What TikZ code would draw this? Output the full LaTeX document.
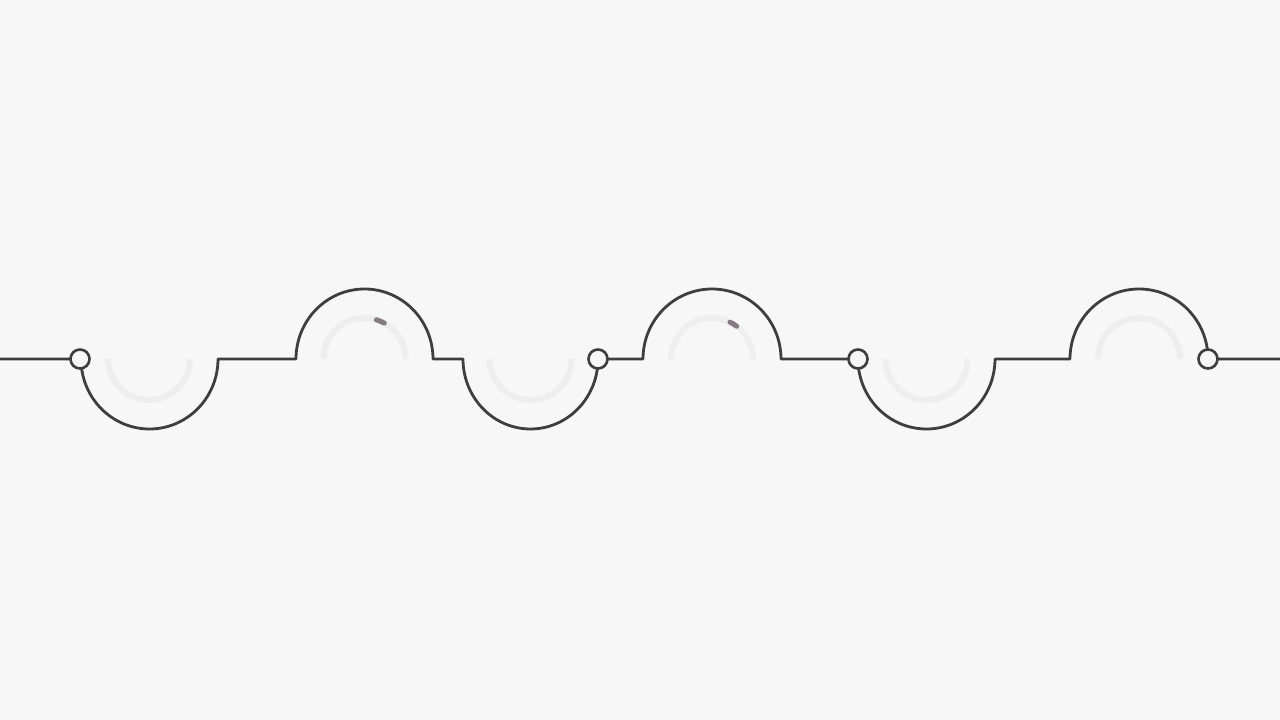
\documentclass[tikz,border=0pt]{standalone}
\begin{document}
\begin{tikzpicture}[x=1pt,y=1pt,
  wire/.style={draw=wirec,line width=2.8pt,line join=round},
  port/.style={circle,draw=wirec,fill=bgc,line width=2.6pt,minimum size=19pt,inner sep=0pt},
  track/.style={draw=trackc,line width=6pt},
  tick/.style={draw=tickc,line width=5pt,line cap=round}]
\definecolor{bgc}{HTML}{F7F7F7}
\definecolor{wirec}{HTML}{3E3E3E}
\definecolor{trackc}{HTML}{EEEEEE}
\definecolor{tickc}{HTML}{857A80}
\fill[bgc] (0,0) rectangle (1280,720);
\useasboundingbox (0,0) rectangle (1280,720);
% faint inner tracks
\draw[track] (108,361) arc[start angle=180,end angle=360,radius=41];
\draw[track] (323.5,361) arc[start angle=180,end angle=0,radius=41];
\draw[track] (489.5,361) arc[start angle=180,end angle=360,radius=41];
\draw[track] (671,361) arc[start angle=180,end angle=0,radius=41];
\draw[track] (885.5,361) arc[start angle=180,end angle=360,radius=41];
\draw[track] (1098,361) arc[start angle=180,end angle=0,radius=41];
% progress ticks
\draw[tick] (364.5,361) ++(73:41) arc[start angle=73,end angle=61,radius=41];
\draw[tick] (712,361) ++(64:41) arc[start angle=64,end angle=53,radius=41];
% coordinates
\coordinate (w0) at (0,361);
\coordinate (w9) at (1280,361);
\coordinate (a1) at (81,361);
\coordinate (a2) at (296,361);
\coordinate (a3) at (463,361);
\coordinate (a4) at (643,361);
\coordinate (a5) at (858,361);
\coordinate (a6) at (1070,361);
% main wire
\draw[wire] (w0) -- (a1)
  arc[start angle=180,end angle=360,x radius=68.5,y radius=70] -- (a2)
  arc[start angle=180,end angle=0,x radius=68.5,y radius=70] -- (a3)
  arc[start angle=180,end angle=360,x radius=67.5,y radius=70] -- (a4)
  arc[start angle=180,end angle=0,x radius=69,y radius=70] -- (a5)
  arc[start angle=180,end angle=360,x radius=68.5,y radius=70] -- (a6)
  arc[start angle=180,end angle=0,x radius=69,y radius=70] -- (w9);
% ports
\node[port] (p1) at (80,361) {};
\node[port] (p2) at (598,361) {};
\node[port] (p3) at (858,361) {};
\node[port] (p4) at (1208,361) {};
\end{tikzpicture}
\end{document}
